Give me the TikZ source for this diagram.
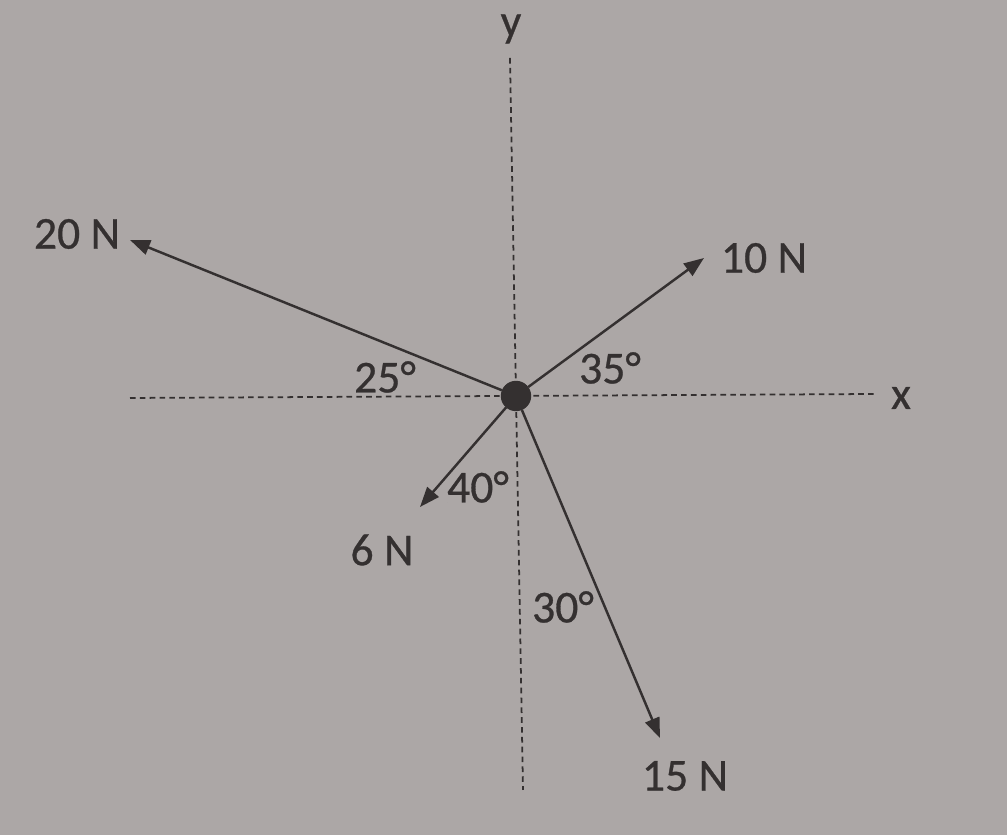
\documentclass[tikz,border=0pt]{standalone}
\usepackage{fontspec}
\setmainfont{Carlito}
\usepackage{xcolor}
\usetikzlibrary{calc, positioning, arrows.meta}
\definecolor{paper}{RGB}{172,167,166}
\definecolor{ink}{RGB}{52,48,48}

\begin{document}
\begin{tikzpicture}%{{{
        \fill [paper] (0, 0) rectangle (10.07, 8.35);
        \useasboundingbox (0, 0) rectangle (10.07, 8.35);

        \coordinate (O) at (5.16, 4.39);

        % axes
        \coordinate (XL) at ($(O) + (-3.86, -0.02)$);
        \coordinate (XR) at ($(O) + ( 3.61,  0.02)$);
        \coordinate (YT) at ($(O) + (-0.06,  3.38)$);
        \coordinate (YB) at ($(O) + ( 0.07, -3.94)$);

        % force tips
        \coordinate (F20) at ($(O) + (-3.86,  1.56)$);
        \coordinate (F10) at ($(O) + ( 1.88,  1.38)$);
        \coordinate (F6)  at ($(O) + (-0.96, -1.11)$);
        \coordinate (F15) at ($(O) + ( 1.44, -3.42)$);

        \tikzstyle{ax} = [draw=ink, line width=0.5pt, dash pattern=on 1.6pt off 1.2pt];
        \draw [ax] (XL) -- (XR);
        \draw [ax] (YT) -- (YB);

        \tikzstyle{c} = [draw=ink, circle, fill=ink, minimum size=0.29cm, inner sep=0pt];
        \node [c] (dot) at (O) { };

        \tikzstyle{f} = [draw=ink, line width=0.7pt, -{Triangle[length=0.2cm, width=0.15cm]}];
        \foreach \fa in {20, 10, 6, 15}{
            \draw [f] (dot) -- (F\fa);
        }

        \tikzstyle{t} = [text=ink, font=\fontsize{13}{15}\selectfont\addfontfeatures{FakeBold=0.6}, inner sep=1pt];
        \node [t] (l20) at (0.77, 6.01) {20 N};
        \node [t] (l10) at (7.64, 5.77) {10 N};
        \node [t] (l6)  at (3.82, 2.85) {6 N};
        \node [t] (l15) at (6.85, 0.59) {15 N};

        \node [t] (a25) at (3.85, 4.58) {25°};
        \node [t] (a35) at (6.10, 4.67) {35°};
        \node [t] (a40) at (4.78, 3.48) {40°};
        \node [t] (a30) at (5.63, 2.28) {30°};

        \node [t] (ly) at (5.11, 8.06) {y};
        \node [t] (lx) at (9.01, 4.37) {x};
    \end{tikzpicture}
\end{document}
